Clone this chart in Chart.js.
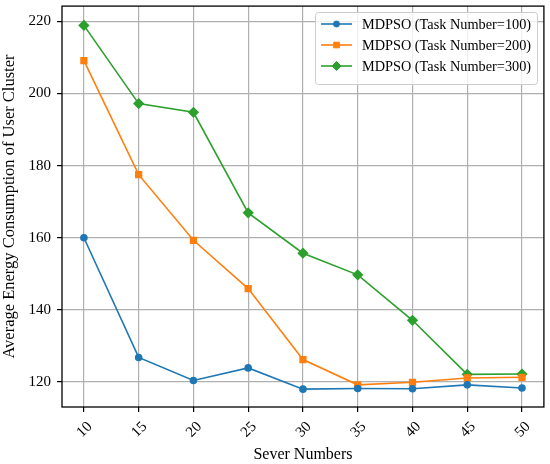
<!DOCTYPE html>
<html>
<head>
<meta charset="utf-8">
<script src="https://cdn.jsdelivr.net/npm/chart.js@4.4.1/dist/chart.umd.min.js"></script>
<style>
  html, body { margin: 0; padding: 0; background: #fff; }
  canvas { display: block; }
</style>
</head>
<body>
<canvas id="myChart" width="550" height="464"></canvas>
<script>
// data
const severNumbers = [10, 15, 20, 25, 30, 35, 40, 45, 50];
const task100 = [160.0, 126.8, 120.4, 123.9, 118.0, 118.2, 118.1, 119.2, 118.3];
const task200 = [209.1, 177.5, 159.3, 145.9, 126.2, 119.2, 119.9, 121.1, 121.3];
const task300 = [218.9, 197.2, 194.8, 166.9, 155.7, 149.7, 137.1, 122.1, 122.2];
const yTicks = [120, 140, 160, 180, 200, 220];

const FONT = "'Liberation Serif', 'Times New Roman', serif";
Chart.defaults.font.family = FONT;
Chart.defaults.color = '#000';

const toXY = arr => arr.map((v, i) => ({ x: severNumbers[i], y: v }));

// matplotlib-like frame + legend inside the axes
const framePlugin = {
    id: 'frame',
    afterDraw(chart) {
        const ctx = chart.ctx;
        const a = chart.chartArea;
        ctx.save();
        ctx.strokeStyle = '#000';
        ctx.lineWidth = 1.3;
        ctx.strokeRect(a.left, a.top, a.right - a.left, a.bottom - a.top);

        // legend box
        const bx = 315, by = 12, bw = 222, bh = 72;
        ctx.fillStyle = 'rgba(255,255,255,0.8)';
        ctx.strokeStyle = '#cccccc';
        ctx.lineWidth = 1;
        ctx.beginPath();
        ctx.roundRect(bx + 0.5, by + 0.5, bw, bh, 3);
        ctx.fill();
        ctx.stroke();

        ctx.font = "14.3px " + FONT;
        ctx.textBaseline = 'middle';
        ctx.textAlign = 'left';
        chart.data.datasets.forEach((ds, i) => {
            const yy = by + 12 + i * 21;
            ctx.strokeStyle = ds.borderColor;
            ctx.lineWidth = 1.6;
            ctx.beginPath();
            ctx.moveTo(bx + 6, yy);
            ctx.lineTo(bx + 37, yy);
            ctx.stroke();
            ctx.fillStyle = ds.borderColor;
            ctx.lineWidth = 1;
            Chart.helpers.drawPoint(ctx, {
                pointStyle: ds.pointStyle,
                radius: ds.pointRadius,
                rotation: 0,
                borderWidth: 1
            }, bx + 21.5, yy);
            ctx.fillStyle = '#000';
            ctx.fillText(ds.label, bx + 47, yy + 1);
        });
        ctx.restore();
    }
};

new Chart(document.getElementById("myChart"), {
    type: 'line',
    data: {
        datasets: [{
            label: "MDPSO (Task Number=100)",
            data: toXY(task100),
            borderColor: '#1f77b4',
            backgroundColor: '#1f77b4',
            pointStyle: 'circle',
            pointRadius: 3,
            borderWidth: 1.6,
        }, {
            label: "MDPSO (Task Number=200)",
            data: toXY(task200),
            borderColor: '#ff7f0e',
            backgroundColor: '#ff7f0e',
            pointStyle: 'rect',
            pointRadius: 4,
            borderWidth: 1.6,
        }, {
            label: "MDPSO (Task Number=300)",
            data: toXY(task300),
            borderColor: '#2ca02c',
            backgroundColor: '#2ca02c',
            pointStyle: 'rectRot',
            pointRadius: 4.5,
            borderWidth: 1.6,
        }]
    },
    options: {
        responsive: false,
        animation: false,
        devicePixelRatio: 1,
        layout: {
            padding: { top: 6, right: 6, left: 0, bottom: 0 },
        },
        plugins: {
            legend: { display: false },
            tooltip: { enabled: false },
        },
        scales: {
            x: {
                type: 'linear',
                min: 8,
                max: 52,
                afterBuildTicks: s => { s.ticks = severNumbers.map(v => ({ value: v })); },
                afterFit: s => {
                    s.height = 57;
                    s.paddingLeft = 0;
                    s.paddingRight = 0;
                },
                grid: { color: '#b0b0b0', lineWidth: 1.2, tickColor: '#000', tickLength: 5 },
                border: { display: false },
                ticks: {
                    font: { size: 15 },
                    minRotation: 45,
                    maxRotation: 45,
                    labelOffset: 6,
                    padding: 6,
                },
                title: {
                    display: true,
                    text: 'Sever Numbers',
                    font: { size: 16 },
                    padding: { top: 0, bottom: 0 },
                }
            },
            y: {
                min: 113.05,
                max: 224.25,
                afterBuildTicks: s => { s.ticks = yTicks.map(v => ({ value: v })); },
                afterFit: s => {
                    s.width = 62;
                    s.paddingTop = 0;
                    s.paddingBottom = 0;
                },
                grid: { color: '#b0b0b0', lineWidth: 1.2, tickColor: '#000', tickLength: 5 },
                border: { display: false },
                ticks: { font: { size: 15 }, padding: 6 },
                title: {
                    display: true,
                    text: 'Average Energy Consumption of User Cluster',
                    font: { size: 16.5 },
                    padding: { top: 0, bottom: 2 },
                }
            }
        }
    },
    plugins: [framePlugin]
});
</script>
</body>
</html>
